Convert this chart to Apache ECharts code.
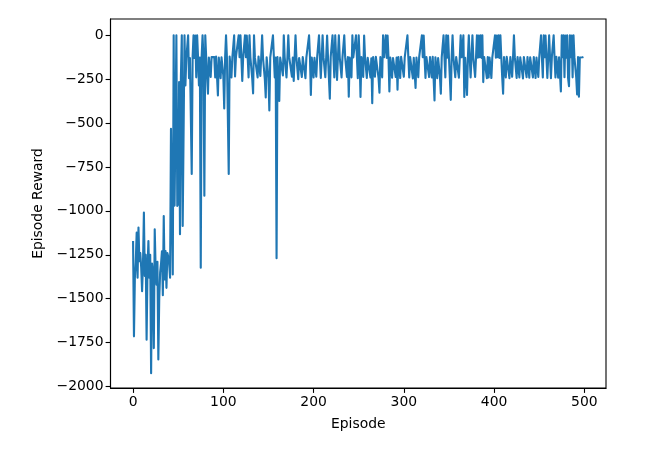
<!DOCTYPE html>
<html><head><meta charset="utf-8">
<script src="https://cdn.jsdelivr.net/npm/echarts@6/dist/echarts.min.js"></script>
<style>html,body{margin:0;padding:0;background:#fff}#c{width:647px;height:455px}</style>
</head><body><div id="c"></div>
<script>
const r000 = [
-1171,-1714,-1381,-1290,-1124,-1380,-1095,-1286,-1240,-1320,
-1457,-1300,-1010,-1370,-1250,-1733,-1330,-1171,-1380,-1250,
-1924,-1300,-1350,-1781,-1105,-1330,-1420,-1290,-1846,-1500,
-1350,-1300,-1230,-1480,-1029,-1390,-1228,-1438,-1240,-1260,
-1300,-1380,-533,-530,-1362,-1,-970,-968,-1,-972,
-960,-267,-1133,-240,-1,-1086,-1080,-1,-286,-133,
-128,-1,-245,-130,-125,-790,-122,-1,-130,-2,
-240,-1,-125,-286,-128,-1324,-122,-1,-130,-914,
-1,-125,-240,-333,-127,-120,-238,-125,-130,-118,
-125,-240,-122,-130,-343,-128,-120,-245,-126,-131];
const r100 = [
-230,-417,-125,-1,-128,-130,-790,-122,-125,-240,
-127,-130,-1,-235,-124,-128,-120,-1,-126,-1,
-128,-261,-123,-130,-1,-125,-2,-128,-240,-1,
-126,-122,-245,-331,-1,-128,-124,-130,-240,-121,
-127,-232,-125,-1,-130,-124,-250,-354,-126,-122,
-240,-429,-128,-125,-131,-1,-123,-240,-127,-1270,
-125,-235,-375,-128,-122,-130,-229,-1,-126,-124,
-240,-128,-1,-125,-130,-122,-236,-127,-260,-125,
-1,-128,-124,-250,-130,-121,-127,-238,-125,-129,
-123,-245,-128,-126,-131,-1,-124,-340,-127,-122];
const r200 = [
-240,-129,-125,-236,-123,-128,-1,-126,-244,-130,
-1,-125,-128,-239,-124,-2,-127,-130,-362,-123,
-128,-1,-125,-240,-1,-129,-255,-124,-1,-127,
-122,-241,-128,-130,-1,-125,-126,-238,-124,-350,
-128,-123,-240,-1,-127,-125,-131,-1,-124,-245,
-1,-128,-352,-125,-130,-238,-2,-124,-127,-243,
-129,-122,-126,-240,-131,-387,-125,-128,-236,-123,
-127,-130,-245,-327,-124,-128,-240,-1,-126,-123,
-1,-129,-2,-125,-320,-128,-124,-242,-130,-126,
-122,-238,-127,-310,-125,-129,-244,-123,-128,-131];
const r300 = [
-237,-126,-124,-130,-1,-127,-241,-125,-122,-128,
-246,-129,-124,-300,-127,-131,-239,-125,-128,-123,
-1,-126,-2,-129,-243,-124,-128,-130,-238,-125,
-127,-240,-123,-129,-371,-126,-124,-245,-130,-128,
-237,-333,-125,-127,-1,-124,-240,-1,-128,-2,
-126,-243,-368,-124,-1,-129,-127,-239,-125,-131,
-123,-242,-128,-1,-126,-124,-1,-352,-129,-127,
-340,-125,-1,-128,-241,-124,-1,-130,-127,-238,
-125,-1,-128,-2,-126,-1,-129,-1,-267,-124,
-128,-130,-245,-125,-240,-127,-123,-244,-129,-126];
const r400 = [
-124,-1,-128,-2,-125,-1,-130,-1,-127,-239,
-333,-125,-128,-241,-123,-130,-126,-245,-124,-128,
-237,-127,-1,-125,-129,-243,-124,-130,-240,-126,
-123,-128,-246,-125,-131,-127,-239,-124,-129,-242,
-126,-123,-128,-240,-125,-130,-244,-127,-124,-238,
-129,-125,-1,-128,-241,-1,-126,-2,-130,-243,
-124,-1,-127,-245,-125,-129,-1,-128,-240,-123,
-127,-242,-126,-131,-320,-1,-125,-1,-239,-2,
-128,-1,-244,-290,-1,-126,-2,-240,-1,-125,
-129,-241,-337,-124,-350,-127,-125,-123,-126,-124];

const xTicks = [0, 100, 200, 300, 400, 500];
const yTicks = [0, -250, -500, -750, -1000, -1250, -1500, -1750, -2000];

const rewards = [].concat(r000, r100, r200, r300, r400);
const seriesData = rewards.map((v, i) => [i, v]);
const fmt = v => (v < 0 ? '\u2212' + Math.abs(v) : String(v));
const font = 'DejaVu Sans';

const chart = echarts.init(document.getElementById('c'), null, {renderer: 'canvas'});
chart.setOption({
  animation: false,
  backgroundColor: '#ffffff',
  grid: {left: 110.5, right: 41, top: 19, bottom: 67, show: true, borderColor: '#000', borderWidth: 1.1, backgroundColor: 'transparent'},
  xAxis: {
    type: 'value', min: -25, max: 524,
    name: 'Episode', nameLocation: 'middle', nameGap: 29,
    nameTextStyle: {fontFamily: font, fontSize: 13.9, color: '#000'},
    axisLine: {show: true, onZero: false, lineStyle: {color: '#000', width: 1.1}},
    axisTick: {show: true, length: 4.9, lineStyle: {color: '#000', width: 1.1}, customValues: xTicks},
    axisLabel: {fontFamily: font, fontSize: 13.9, color: '#000', margin: 7, customValues: xTicks, formatter: fmt},
    splitLine: {show: false}
  },
  yAxis: {
    type: 'value', min: -2008, max: 92,
    name: 'Episode Reward', nameLocation: 'middle', nameGap: 61, nameRotate: 90,
    nameTextStyle: {fontFamily: font, fontSize: 13.9, color: '#000'},
    axisLine: {show: true, onZero: false, lineStyle: {color: '#000', width: 1.1}},
    axisTick: {show: true, length: 4.9, lineStyle: {color: '#000', width: 1.1}, customValues: yTicks},
    axisLabel: {fontFamily: font, fontSize: 13.9, color: '#000', margin: 7, customValues: yTicks, formatter: fmt},
    splitLine: {show: false}
  },
  series: [{
    type: 'line', data: seriesData, showSymbol: false, symbol: 'none', sampling: null,
    lineStyle: {color: '#1f77b4', width: 2.1, join: 'round'},
    silent: true
  }]
});
</script></body></html>
